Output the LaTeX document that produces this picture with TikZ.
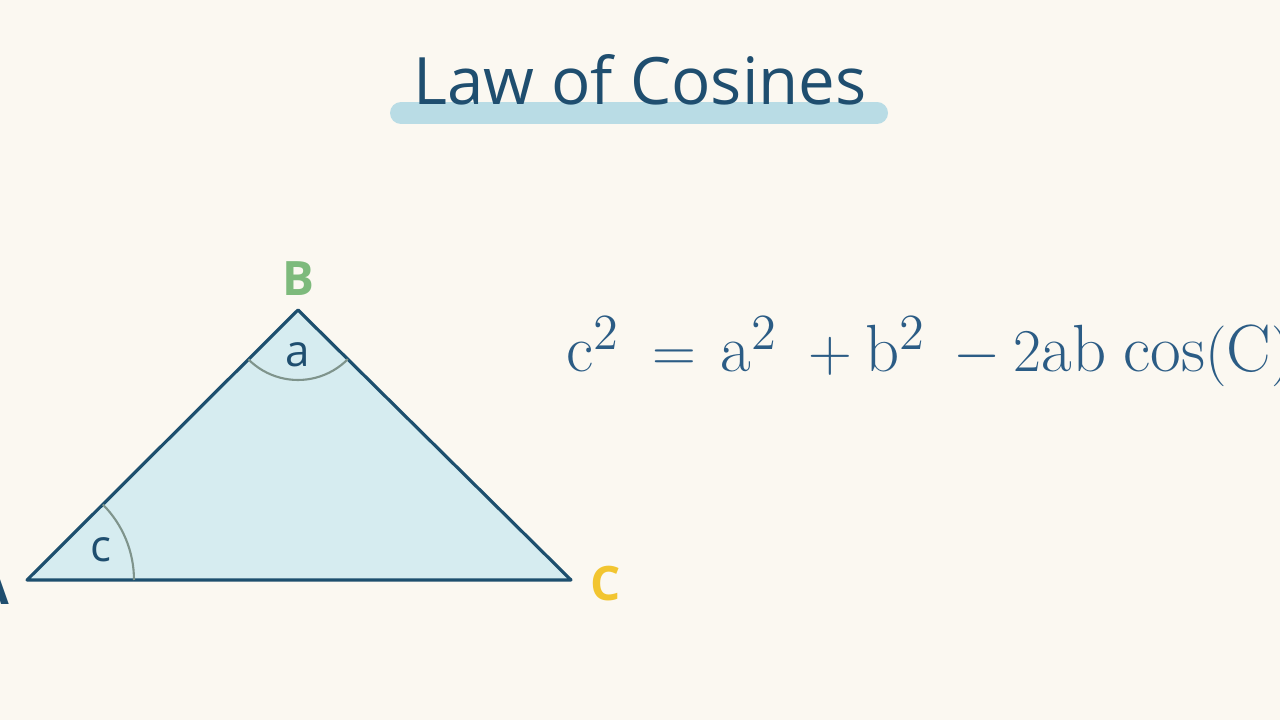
\documentclass[tikz,border=0pt]{standalone}
\usepackage{fontspec}
\setsansfont{Open Sans}
\usetikzlibrary{positioning}
\usetikzlibrary{angles}
\definecolor{paper}{HTML}{FBF8F1}
\definecolor{trifill}{HTML}{D6ECF0}
\definecolor{triline}{HTML}{1D4F6E}
\definecolor{inkblue}{HTML}{1F4E6F}
\definecolor{mathblue}{HTML}{2B5C85}
\definecolor{brush}{HTML}{A9D5E2}
\definecolor{arcgray}{HTML}{7F948C}
\definecolor{vgreen}{HTML}{7DBA7C}
\definecolor{vyellow}{HTML}{F2C530}
\tikzset{
	vertexlabel/.style={inner sep=0pt,font=\sffamily\bfseries\fontsize{13.5}{14}\selectfont},
	anglelabel/.style={inner sep=0pt,text=inkblue,font=\sffamily\fontsize{12.5}{13}\selectfont},
	anglearc/.style={draw=arcgray,line width=0.6pt},
}

\begin{document}
\begin{tikzpicture}
	\path[fill=paper] (0,0) rectangle (12.8,7.2);
	\clip (0,0) rectangle (12.8,7.2);
	%% title
	\draw[brush,line width=0.22cm,line cap=round,opacity=0.8] (4.01,6.07) -- (8.77,6.07);
	\node[anchor=base,inner sep=0pt,text=inkblue,font=\sffamily\fontsize{18.6}{21}\selectfont] (title) at (6.40,6.15) {Law of Cosines};
	%% triangle
	\coordinate (A) at (0.27,1.40);
	\coordinate[above right = 2.70cm and 2.71cm of A] (B);
	\coordinate[right = 5.44cm of A] (C);
	\draw[fill=trifill,draw=triline,line width=0.9pt,line join=round] (A) -- (B) -- (C) -- cycle;
	\pic[anglearc,angle radius=1.07cm] {angle = C--A--B};
	\pic[anglearc,angle radius=0.70cm] {angle = A--B--C};
	\node[anglelabel, below = 0.32cm of B] (la) {a};
	\node[anglelabel, above right = 0.17cm and 0.63cm of A] (lc) {c};
	% vertex names
	\node[vertexlabel, text=vgreen, above = 0.14cm of B] (nB) {B};
	\node[vertexlabel, text=vyellow, right = 0.19cm of C, yshift=-0.04cm] (nC) {C};
	\node[vertexlabel, text=inkblue, left = 0.17cm of A, yshift=-0.08cm] (nA) {A};
	%% formula
	\node[anchor=base west,inner sep=0pt,text=mathblue,font=\fontsize{19}{20}\selectfont] (law) at (5.66,3.48)
		{$\mathrm{c}^2 \mskip4.5mu = \mskip2.3mu \mathrm{a}^2 \; + \mathrm{b}^2 \mskip4mu - 2\mathrm{ab}\mskip2mu\cos(\mathrm{C})$};
\end{tikzpicture}
\end{document}
